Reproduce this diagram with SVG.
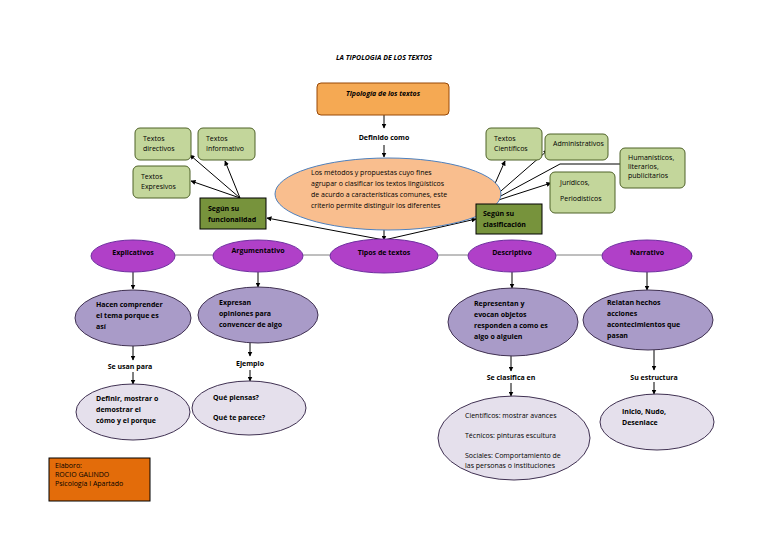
<svg xmlns="http://www.w3.org/2000/svg" width="768" height="543" viewBox="0 0 768 543">
<defs>
<marker id="a" viewBox="0 0 10 10" refX="9" refY="5" markerWidth="5" markerHeight="5" orient="auto"><path d="M0,0L10,5L0,10z" fill="#000"/></marker>
<style>
text{font-family:"Open Sans","Liberation Sans",sans-serif;font-size:7px;fill:#000}
.b{font-weight:bold}
.lg{fill:#c3d69b;stroke:#4f6228;stroke-width:1}
.dg{fill:#77933c;stroke:#000;stroke-width:1}
.pu{fill:#b040c8;stroke:#7030a0;stroke-width:1}
.pl{fill:#a99bc8;stroke:#403152;stroke-width:1}
.pv{fill:#e5e0ec;stroke:#403152;stroke-width:1}
.ln{stroke:#000;stroke-width:1;fill:none}
.ar{stroke:#000;stroke-width:1;fill:none;marker-end:url(#a)}
.gl{stroke:#7f7f7f;stroke-width:1}
</style>
</defs>
<rect width="768" height="543" fill="#fff"/>
<text x="384" y="60" text-anchor="middle" class="b" font-style="italic" font-size="8">LA TIPOLOGIA DE LOS TEXTOS</text>
<g id="connectors">
<line class="gl" x1="175" y1="255" x2="216" y2="255"/>
<line class="gl" x1="300" y1="255" x2="330" y2="255"/>
<line class="gl" x1="438" y1="255" x2="470" y2="255"/>
<line class="gl" x1="554" y1="255" x2="605" y2="255"/>
<path class="ar" d="M384,115V128"/>
<path class="ar" d="M384,145V157"/>
<path class="ar" d="M384,230V240"/>
<path class="ar" d="M384,240L267,218"/>
<path class="ar" d="M384,240L476,219"/>
<path class="ar" d="M240,198L190,155"/>
<path class="ar" d="M240,198L225,161"/>
<path class="ar" d="M240,198L191,181"/>
<path class="ar" d="M486,204L505,161"/>
<path class="ar" d="M486,204L548,150"/>
<path class="ln" d="M486,204L560,164H620"/>
<path class="ar" d="M486,204L551,183"/>
<path class="ar" d="M133,272V289"/>
<path class="ar" d="M258,272V287"/>
<path class="ar" d="M512,272V288"/>
<path class="ar" d="M647,272V290"/>
<path class="ar" d="M133,346V360"/>
<path class="ar" d="M133,372V384"/>
<path class="ar" d="M250,343V356"/>
<path class="ar" d="M250,370V381"/>
<path class="ar" d="M511,356V371"/>
<path class="ar" d="M511,383V396"/>
<path class="ar" d="M654,350V370"/>
<path class="ar" d="M654,382V394"/>
</g>
<g id="title-box"><rect x="317" y="83" width="132" height="32" rx="4" fill="#f5a953" stroke="#984807"/><text x="383" y="96" text-anchor="middle" class="b" font-style="italic" font-size="8">Tipología de los textos</text></g>
<text x="384" y="140" text-anchor="middle" class="b">Definido como</text>
<g id="def"><ellipse cx="388" cy="194" rx="113" ry="36" fill="#f9be8e" stroke="#4f81bd"/>
<text x="311" y="175">Los métodos y propuestas cuyo fines</text>
<text x="311" y="186">agrupar o clasificar los textos lingüísticos</text>
<text x="311" y="197">de acurdo a características comunes, este</text>
<text x="311" y="208">criterio permite distinguir los diferentes</text></g>
<g id="dir"><rect class="lg" x="135" y="128" width="56" height="32" rx="5"/><text x="143" y="141">Textos</text><text x="143" y="151">directivos</text></g>
<g id="inf"><rect class="lg" x="198" y="128" width="57" height="32" rx="5"/><text x="206" y="141">Textos</text><text x="206" y="151">Informativo</text></g>
<g id="exp"><rect class="lg" x="133" y="166" width="57" height="32" rx="5"/><text x="141" y="179">Textos</text><text x="141" y="189">Expresivos</text></g>
<g id="func"><rect class="dg" x="200" y="198" width="66" height="31"/><text x="208" y="211" class="b">Según su</text><text x="208" y="222" class="b">funcionalidad</text></g>
<g id="cie"><rect class="lg" x="486" y="128" width="56" height="32" rx="5"/><text x="494" y="141">Textos</text><text x="494" y="151">Científicos</text></g>
<g id="adm"><rect class="lg" x="545" y="134" width="63" height="26" rx="5"/><text x="553" y="146">Administrativos</text></g>
<g id="hum"><rect class="lg" x="620" y="148" width="65" height="40" rx="5"/><text x="628" y="160">Humanísticos,</text><text x="628" y="169">literarios,</text><text x="628" y="178">publicitarios</text></g>
<g id="jur"><rect class="lg" x="550" y="172" width="65" height="41" rx="5"/><text x="560" y="185">Jurídicos,</text><text x="560" y="201">Periodísticos</text></g>
<g id="clas"><rect class="dg" x="476" y="204" width="66" height="30"/><text x="483" y="216" class="b">Según su</text><text x="483" y="227" class="b">clasificación</text></g>
<g id="n-expl"><ellipse class="pu" cx="133" cy="256" rx="42" ry="16"/><text x="133" y="255" text-anchor="middle" class="b">Explicativos</text></g>
<g id="n-arg"><ellipse class="pu" cx="258" cy="256" rx="45" ry="16"/><text x="258" y="253" text-anchor="middle" class="b">Argumentativo</text></g>
<g id="n-tipos"><ellipse class="pu" cx="384" cy="256" rx="54" ry="17"/><text x="384" y="255" text-anchor="middle" class="b" font-size="8">Tipos de textos</text></g>
<g id="n-desc"><ellipse class="pu" cx="512" cy="256" rx="44" ry="16"/><text x="512" y="255" text-anchor="middle" class="b" font-size="8">Descriptivo</text></g>
<g id="n-narr"><ellipse class="pu" cx="647" cy="256" rx="45" ry="16"/><text x="647" y="255" text-anchor="middle" class="b" font-size="8">Narrativo</text></g>
<g id="e1"><ellipse class="pl" cx="133" cy="318" rx="58" ry="28"/><text x="96" y="307" class="b">Hacen comprender</text><text x="96" y="318" class="b">el tema porque es</text><text x="96" y="329" class="b">así</text></g>
<g id="e2"><ellipse class="pl" cx="258" cy="315" rx="60" ry="28"/><text x="219" y="305" class="b">Expresan</text><text x="219" y="316" class="b">opiniones para</text><text x="219" y="327" class="b">convencer de algo</text></g>
<g id="e3"><ellipse class="pl" cx="513" cy="322" rx="65" ry="34"/><text x="474" y="306" class="b">Representan y</text><text x="474" y="317" class="b">evocan objetos</text><text x="474" y="328" class="b">responden a como es</text><text x="474" y="339" class="b">algo o alguien</text></g>
<g id="e4"><ellipse class="pl" cx="648" cy="320" rx="65" ry="30"/><text x="607" y="305" class="b">Relatan hechos</text><text x="607" y="316" class="b">acciones</text><text x="607" y="327" class="b">acontecimientos que</text><text x="607" y="338" class="b">pasan</text></g>
<text x="130" y="369" text-anchor="middle" class="b">Se usan para</text>
<text x="250" y="366" text-anchor="middle" class="b">Ejemplo</text>
<text x="511" y="380" text-anchor="middle" class="b" font-size="8">Se clasifica en</text>
<text x="654" y="380" text-anchor="middle" class="b">Su estructura</text>
<g id="f1"><ellipse class="pv" cx="133" cy="412" rx="57" ry="28"/><text x="96" y="401" class="b">Definir, mostrar o</text><text x="96" y="412" class="b">demostrar el</text><text x="96" y="423" class="b">cómo  y el porque</text></g>
<g id="f2"><ellipse class="pv" cx="249" cy="408" rx="57" ry="27"/><text x="213" y="400" class="b">Qué piensas?</text><text x="213" y="420" class="b">Qué te parece?</text></g>
<g id="f3"><ellipse class="pv" cx="514" cy="438" rx="76" ry="42"/><text x="465" y="418">Científicos: mostrar avances</text><text x="465" y="438">Técnicos: pinturas escultura</text><text x="465" y="458">Sociales: Comportamiento de</text><text x="465" y="468">las personas o instituciones</text></g>
<g id="f4"><ellipse class="pv" cx="657" cy="422" rx="57" ry="28"/><text x="622" y="414" class="b">Inicio, Nudo,</text><text x="622" y="425" class="b">Desenlace</text></g>
<g id="autor"><rect x="49" y="458" width="101" height="43" fill="#e36c0a" stroke="#000"/><text x="55" y="468" font-size="6">Elaboro:</text><text x="55" y="477" font-size="6">ROCIO GALINDO</text><text x="55" y="486" font-size="6">Psicología  I  Apartado</text></g>
</svg>
